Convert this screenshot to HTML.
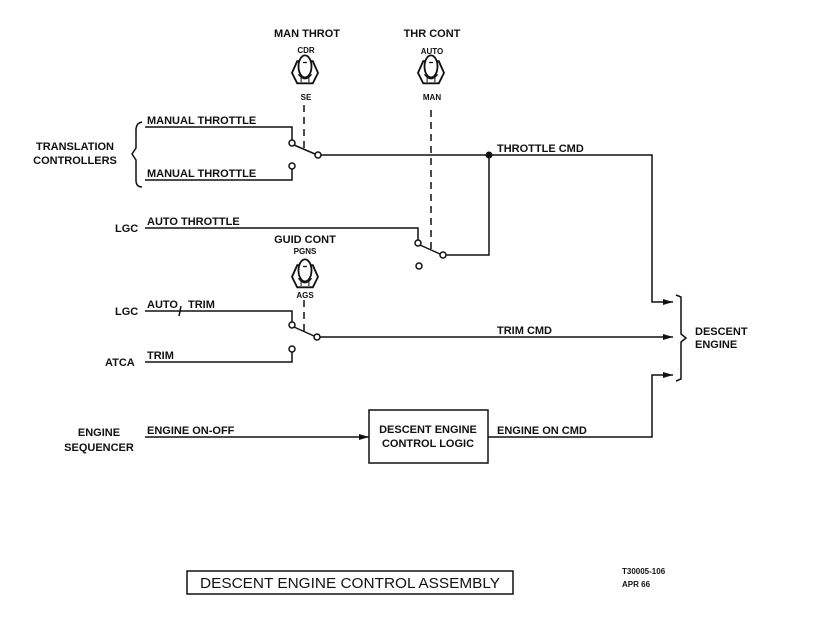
<!DOCTYPE html>
<html><head><style>
body{margin:0;background:#fff;}
svg{display:block}
text{font-family:"Liberation Sans",sans-serif;font-weight:bold;fill:#111;}
</style></head><body>
<svg width="830" height="640" viewBox="0 0 830 640" xmlns="http://www.w3.org/2000/svg">
<defs>
<marker id="ar" markerWidth="10" markerHeight="6" refX="10" refY="3" orient="auto" markerUnits="userSpaceOnUse">
<path d="M0,0 L10,3 L0,6 Z" fill="#111"/></marker>
<g id="tog" transform="scale(1.3)">
<polygon points="-6,-6 6,-6 10,3 6,11 -6,11 -10,3" fill="none" stroke="#111" stroke-width="1.4"/>
<ellipse cx="0" cy="-2" rx="5" ry="8.5" fill="#fff" stroke="#111" stroke-width="1.4"/>
<line x1="-1.5" y1="-5" x2="1.5" y2="-5" stroke="#111" stroke-width="1"/>
<path d="M-5,4 Q0,11 5,4" fill="none" stroke="#111" stroke-width="1"/>
<line x1="-3" y1="6" x2="-3" y2="10" stroke="#111" stroke-width="0.8"/>
<line x1="3" y1="6" x2="3" y2="10" stroke="#111" stroke-width="0.8"/>
</g>
</defs>
<g stroke="#111" stroke-width="1.5" fill="none">
<path d="M142,122 Q136,123 136,130 L136,148 L132,154 L136,160 L136,180 Q136,187 142,187"/>
<path d="M145,127 H292 V140"/>
<path d="M145,180 H292 V169"/>
<circle cx="292" cy="143" r="3" fill="#fff"/>
<circle cx="292" cy="166" r="3" fill="#fff"/>
<line x1="294" y1="145" x2="315" y2="154"/>
<circle cx="318" cy="155" r="3" fill="#fff"/>
<path d="M321,155 H652 V302 H673" marker-end="url(#ar)"/>
<line x1="304" y1="105" x2="304" y2="150" stroke-dasharray="7,5"/>
<path d="M145,228 H418 V240"/>
<circle cx="418" cy="243" r="3" fill="#fff"/>
<circle cx="419" cy="266" r="3" fill="#fff"/>
<line x1="420" y1="245" x2="440" y2="254"/>
<circle cx="443" cy="255" r="3" fill="#fff"/>
<path d="M446,255 H489 V155"/>
<line x1="431" y1="110" x2="431" y2="250" stroke-dasharray="7,5"/>
<path d="M145,311 H292 V322"/>
<line x1="181" y1="306" x2="179" y2="316"/>
<circle cx="292" cy="325" r="3" fill="#fff"/>
<path d="M145,362 H292 V352"/>
<circle cx="292" cy="349" r="3" fill="#fff"/>
<line x1="294" y1="327" x2="314" y2="336"/>
<circle cx="317" cy="337" r="3" fill="#fff"/>
<path d="M320,337 H673" marker-end="url(#ar)"/>
<line x1="304" y1="300" x2="304" y2="333" stroke-dasharray="7,5"/>
<path d="M145,437 H369" marker-end="url(#ar)"/>
<rect x="369" y="410" width="119" height="53"/>
<path d="M488,437 H652 V375 H673" marker-end="url(#ar)"/>
<path d="M676,295 L681,297 L681,334 L686,338 L681,342 L681,379 L676,381"/>
<rect x="187" y="571" width="326" height="23"/>
</g>
<circle cx="489" cy="155" r="3.5" fill="#111"/>
<use href="#tog" x="305" y="69"/>
<use href="#tog" x="431" y="69"/>
<use href="#tog" x="305" y="273"/>
<g font-size="11">
<text x="307" y="37" text-anchor="middle">MAN THROT</text>
<text x="432" y="37" text-anchor="middle">THR CONT</text>
<text x="305" y="243" text-anchor="middle">GUID CONT</text>
<text x="147" y="124">MANUAL THROTTLE</text>
<text x="147" y="177">MANUAL THROTTLE</text>
<text x="75" y="150" text-anchor="middle">TRANSLATION</text>
<text x="75" y="164" text-anchor="middle">CONTROLLERS</text>
<text x="147" y="225">AUTO THROTTLE</text>
<text x="115" y="232">LGC</text>
<text x="147" y="308">AUTO</text>
<text x="188" y="308">TRIM</text>
<text x="115" y="315">LGC</text>
<text x="147" y="359">TRIM</text>
<text x="105" y="366">ATCA</text>
<text x="147" y="434">ENGINE ON-OFF</text>
<text x="99" y="436" text-anchor="middle">ENGINE</text>
<text x="99" y="451" text-anchor="middle">SEQUENCER</text>
<text x="497" y="152">THROTTLE CMD</text>
<text x="497" y="334">TRIM CMD</text>
<text x="497" y="434">ENGINE ON CMD</text>
<text x="428" y="433" text-anchor="middle">DESCENT ENGINE</text>
<text x="428" y="447" text-anchor="middle">CONTROL LOGIC</text>
<text x="695" y="335">DESCENT</text>
<text x="695" y="348">ENGINE</text>
</g>
<g font-size="8">
<text x="306" y="53" text-anchor="middle">CDR</text>
<text x="306" y="100" text-anchor="middle">SE</text>
<text x="432" y="54" text-anchor="middle">AUTO</text>
<text x="432" y="100" text-anchor="middle">MAN</text>
<text x="305" y="254" text-anchor="middle">PGNS</text>
<text x="305" y="298" text-anchor="middle">AGS</text>
<text x="622" y="574">T30005-106</text>
<text x="622" y="587">APR 66</text>
</g>
<text x="200" y="588" font-size="15" textLength="300" lengthAdjust="spacingAndGlyphs" style="font-weight:normal">DESCENT ENGINE CONTROL ASSEMBLY</text>
</svg>
</body></html>
